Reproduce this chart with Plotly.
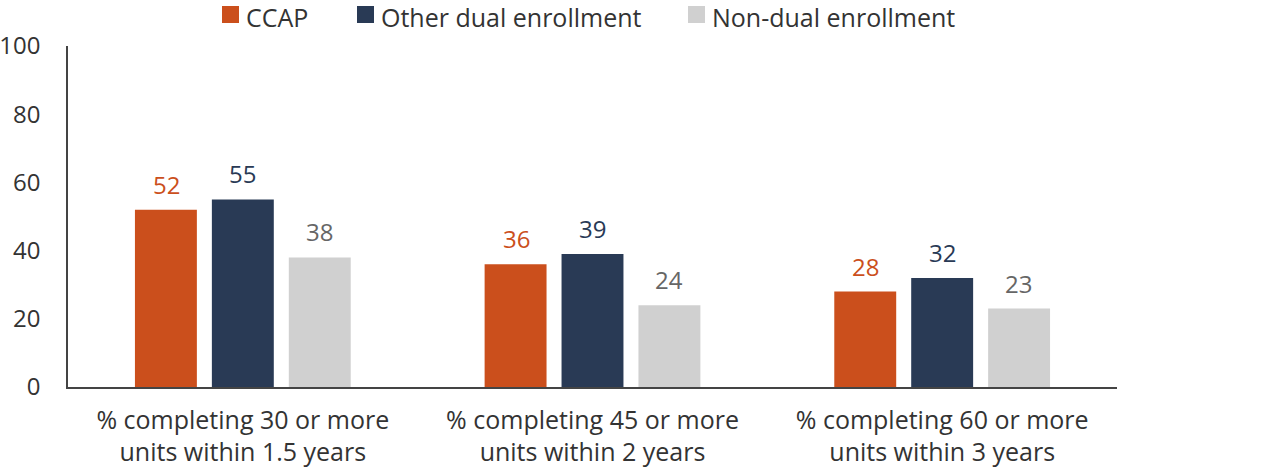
import plotly.graph_objects as go

categories = ["% completing 30 or more<br>units within 1.5 years",
              "% completing 45 or more<br>units within 2 years",
              "% completing 60 or more<br>units within 3 years"]
series_names = ["CCAP", "Other dual enrollment", "Non-dual enrollment"]
ccap = [52, 36, 28]
other_dual = [55, 39, 32]
non_dual = [38, 24, 23]
y_ticks = [0, 20, 40, 60, 80, 100]

bar_colors = ["#CB4F1C", "#293A55", "#D0D0D0"]
label_colors = ["#CB4F1C", "#293A55", "#666666"]
FONT = "Open Sans, sans-serif"
FS = 25

L, R, T, B = 68, 163, 46, 83
W, H = 1280, 470
PW, PH = W - L - R, H - T - B

def px_x(x):
    return (x - L) / PW

def px_y(y):
    return (H - B - y) / PH

fig = go.Figure()
series = [ccap, other_dual, non_dual]
for name, vals, bc in zip(series_names, series, bar_colors):
    fig.add_trace(go.Bar(
        x=categories, y=vals, name=name,
        marker=dict(color=bc, line=dict(width=0)),
        showlegend=False,
    ))

# value labels
shifts = [-76.5, 0, 76.5]
for vals, lc, sh in zip(series, label_colors, shifts):
    for c, v in zip(categories, vals):
        fig.add_annotation(x=c, y=v, text=str(v), showarrow=False,
                           xshift=sh, yshift=7, yanchor="bottom",
                           font=dict(color=lc, size=24, family=FONT))

# manual legend
leg_sq = [222, 357, 688]
for name, bc, sx in zip(series_names, bar_colors, leg_sq):
    fig.add_shape(type="rect", xref="paper", yref="paper",
                  x0=px_x(sx), x1=px_x(sx + 17), y0=px_y(23), y1=px_y(6),
                  fillcolor=bc, line=dict(width=0))
    fig.add_annotation(xref="paper", yref="paper", x=px_x(sx + 23), y=px_y(17),
                       xanchor="left", yanchor="middle", text=name, showarrow=False,
                       borderpad=0,
                       font=dict(size=25, color="#333333", family=FONT))

fig.update_layout(
    width=W, height=H,
    margin=dict(l=L, r=R, t=T, b=B),
    paper_bgcolor="white", plot_bgcolor="white",
    barmode="group", bargap=0.34, bargroupgap=0.195,
    font=dict(family=FONT, size=FS, color="#333333"),
    showlegend=False,
)
fig.update_xaxes(showline=True, linecolor="#444444", linewidth=1.5, ticks="",
                 tickfont=dict(size=FS, color="#333333"), showgrid=False,
                 ticklabelstandoff=10, automargin=False)
fig.update_yaxes(range=[0, 100], tickvals=y_ticks, showline=True, linecolor="#444444",
                 linewidth=1.5, showgrid=False, zeroline=False, ticks="",
                 ticklabelstandoff=21, tickfont=dict(size=24, color="#333333"),
                 automargin=False)

fig.write_html("out.html")
